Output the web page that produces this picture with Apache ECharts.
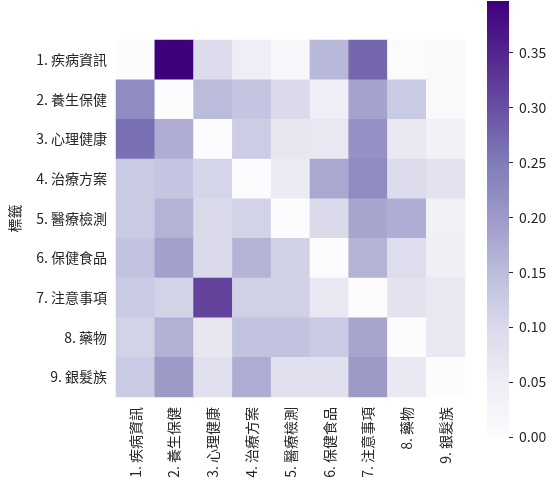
<!DOCTYPE html>
<html><head><meta charset="utf-8">
<script src="https://cdn.jsdelivr.net/npm/echarts@6/dist/echarts.min.js"></script>
<style>html,body{margin:0;padding:0;background:#fff}#c{width:557px;height:491px}</style>
</head><body><div id="c"></div>
<script>
const labels = ['1. 疾病資訊','2. 養生保健','3. 心理健康','4. 治療方案','5. 醫療檢測','6. 保健食品','7. 注意事項','8. 藥物','9. 銀髮族'];
const row1 = [0.000,0.397,0.095,0.048,0.016,0.155,0.274,0.005,0.012];
const row2 = [0.222,0.000,0.150,0.135,0.099,0.050,0.187,0.127,0.012];
const row3 = [0.262,0.171,0.000,0.123,0.068,0.064,0.214,0.061,0.036];
const row4 = [0.127,0.135,0.107,0.000,0.056,0.179,0.222,0.095,0.079];
const row5 = [0.127,0.163,0.099,0.111,0.000,0.099,0.183,0.171,0.040];
const row6 = [0.139,0.190,0.099,0.163,0.115,0.000,0.163,0.091,0.044];
const row7 = [0.127,0.111,0.314,0.115,0.115,0.064,0.000,0.079,0.066];
const row8 = [0.111,0.167,0.068,0.139,0.139,0.127,0.183,0.000,0.061];
const row9 = [0.127,0.198,0.083,0.171,0.083,0.083,0.198,0.061,0.000];
const rows = [row1,row2,row3,row4,row5,row6,row7,row8,row9];
const colorTicks = [0,0.05,0.10,0.15,0.20,0.25,0.30,0.35];
const vMax = 0.397;
const purples = ['#fcfbfd','#efedf5','#dadaeb','#bcbddc','#9e9ac8','#807dba','#6a51a3','#54278f','#3f007d'];

const data = [];
rows.forEach((r, yi) => r.forEach((v, xi) => data.push([xi, yi, v])));

const font = '"Noto Sans CJK TC", "Noto Sans", sans-serif';
const txt = '#262626';
const fs = 14;
const chart = echarts.init(document.getElementById('c'));
chart.setOption({
  backgroundColor: '#fff',
  animation: false,
  textStyle: {fontFamily: font},
  grid: [
    {left: 108, top: 40, width: 357, height: 357},
    {left: 487, top: 1, width: 22, height: 436}
  ],
  xAxis: [
    {type: 'category', data: labels, gridIndex: 0,
     axisLine: {show: false}, axisTick: {show: false}, splitLine: {show: false},
     axisLabel: {rotate: 90, fontSize: fs, color: txt, margin: 10, fontFamily: font}},
    {type: 'category', data: ['cb'], gridIndex: 1, show: false}
  ],
  yAxis: [
    {type: 'category', data: labels, inverse: true, gridIndex: 0,
     name: '標籤', nameLocation: 'middle', nameGap: 94,
     nameTextStyle: {fontSize: fs, color: txt, fontFamily: font},
     axisLine: {show: false}, axisTick: {show: false}, splitLine: {show: false},
     axisLabel: {fontSize: fs, color: txt, margin: 9, fontFamily: font}},
    {type: 'value', gridIndex: 1, min: 0, max: vMax, position: 'right',
     axisLine: {show: false}, splitLine: {show: false},
     axisTick: {show: true, length: 4, lineStyle: {color: txt}, customValues: colorTicks},
     axisLabel: {fontSize: fs, color: txt, margin: 10, fontFamily: font,
                 customValues: colorTicks, formatter: v => v.toFixed(2)}}
  ],
  visualMap: {show: false, min: 0, max: vMax, seriesIndex: 0, inRange: {color: purples}},
  series: [
    {type: 'heatmap', xAxisIndex: 0, yAxisIndex: 0, data: data,
     itemStyle: {borderWidth: 0}, emphasis: {disabled: true}},
    {type: 'bar', xAxisIndex: 1, yAxisIndex: 1, data: [vMax], barWidth: '100%',
     itemStyle: {color: new echarts.graphic.LinearGradient(0, 1, 0, 0,
       purples.map((c, i) => ({offset: i / (purples.length - 1), color: c})))}}
  ]
});
</script></body></html>
